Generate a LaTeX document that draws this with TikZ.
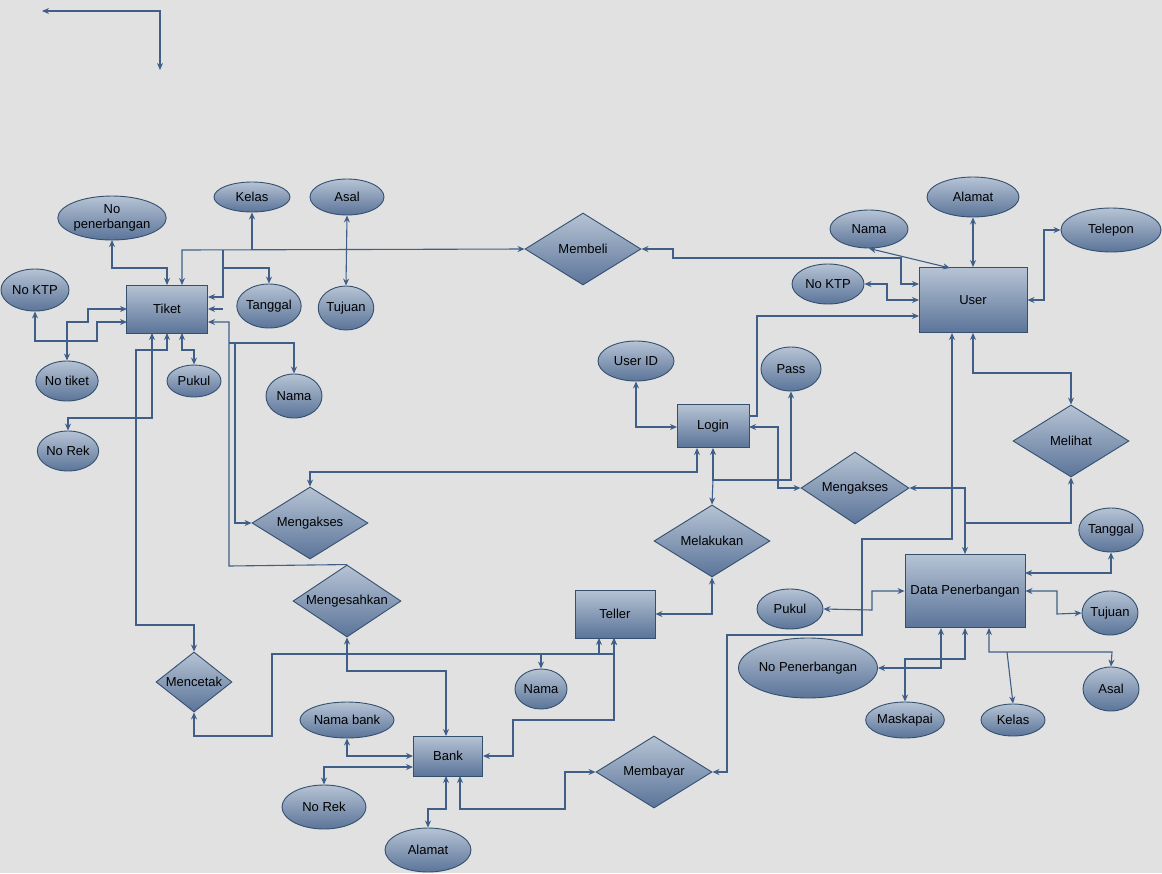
\documentclass[tikz,border=0pt]{standalone}
\usepackage{fontspec}
\setmainfont{Liberation Sans}
\usetikzlibrary{shapes.geometric,arrows.meta}
\definecolor{bg}{HTML}{E1E1E1}
\definecolor{ln}{HTML}{3F5F88}
\definecolor{bd}{HTML}{34506F}
\definecolor{tp}{HTML}{B6C3D4}
\definecolor{bt}{HTML}{5B7499}
\tikzset{
  shp/.style={draw=bd,line width=0.9pt,top color=tp,bottom color=bt,inner sep=0pt,font=\fontsize{13}{15}\selectfont,align=center},
  ent/.style={shp,rectangle},
  att/.style={shp,ellipse},
  rel/.style={shp,diamond},
  cn/.style={draw=ln,line width=1.1pt,rounded corners=0pt,>={Stealth[length=7pt,width=6pt]}}
}
\newcommand{\E}[5]{\node[ent,minimum width=#3,minimum height=#4] (#1) at #2 {#5};}
\newcommand{\A}[5]{\node[att,minimum width=#3,minimum height=#4] (#1) at #2 {#5};}
\newcommand{\R}[5]{\node[rel,minimum width=#3,minimum height=#4,aspect=1.6] (#1) at #2 {#5};}
\begin{document}
\begin{tikzpicture}[x=1pt,y=-1pt]
\fill[bg] (0,0) rectangle (1162,873);
\useasboundingbox (0,0) rectangle (1162,873);
% nodes
\E{tiket}{(167,309)}{81pt}{48pt}{Tiket}
\A{nopen}{(112,218)}{100pt}{44pt}{No\\penerbangan}
\A{kelas}{(252,197)}{76pt}{30pt}{Kelas}
\A{asal}{(347,197)}{74pt}{36pt}{Asal}
\A{noktp}{(35,290)}{68pt}{42pt}{No KTP}
\A{tgl}{(269,306)}{64pt}{44pt}{Tanggal}
\A{tuj}{(346,308)}{54pt}{44pt}{Tujuan}
\A{notik}{(67,381)}{60pt}{40pt}{No tiket}
\A{pukul}{(194,381)}{54pt}{32pt}{Pukul}
\A{nama}{(294,396)}{56pt}{44pt}{Nama}
\A{norek}{(68,451)}{60pt}{40pt}{No Rek}
\R{membeli}{(583,249)}{116pt}{72pt}{Membeli}
\E{user}{(973,300)}{108pt}{65pt}{User}
\A{unama}{(869,229)}{78pt}{38pt}{Nama}
\A{ualamat}{(973,197)}{92pt}{40pt}{Alamat}
\A{utel}{(1111,230)}{100pt}{44pt}{Telepon}
\A{uktp}{(828,284)}{72pt}{40pt}{No KTP}
\A{uid}{(636,361)}{76pt}{40pt}{User ID}
\A{pass}{(791,369)}{60pt}{44pt}{Pass}
\E{login}{(713,426)}{72pt}{43pt}{Login}
\R{melihat}{(1071,441)}{116pt}{72pt}{Melihat}
\R{mengr}{(855,488)}{108pt}{72pt}{Mengakses}
\R{mengl}{(310,523)}{116pt}{72pt}{Mengakses}
\R{melak}{(712,541)}{116pt}{72pt}{Melakukan}
\E{dp}{(965,591)}{120pt}{73pt}{Data Penerbangan}
\A{dtgl}{(1111,530)}{64pt}{44pt}{Tanggal}
\A{dpukul}{(790,609)}{66pt}{40pt}{Pukul}
\A{dtuj}{(1110,613)}{56pt}{44pt}{Tujuan}
\A{dnopen}{(808,668)}{112pt}{60pt}{No Penerbangan}
\A{dmask}{(905,720)}{76pt}{36pt}{Maskapai}
\A{dkelas}{(1013,720)}{64pt}{32pt}{Kelas}
\A{dasal}{(1111,689)}{56pt}{44pt}{Asal}
\R{mengs}{(347,601)}{108pt}{72pt}{Mengesahkan}
\E{teller}{(615,614)}{80pt}{48pt}{Teller}
\R{mencetak}{(194,682)}{76pt}{60pt}{Mencetak}
\A{tnama}{(541,689)}{52pt}{40pt}{Nama}
\A{nbank}{(347,720)}{86pt}{36pt}{Nama bank}
\E{bank}{(448,756)}{69pt}{40pt}{Bank}
\A{bnorek}{(324,807)}{84pt}{44pt}{No Rek}
\A{balamat}{(428,850)}{86pt}{44pt}{Alamat}
\R{membayar}{(654,772)}{116pt}{72pt}{Membayar}
% stray arrow
\coordinate (s1) at (42,11); \coordinate (s2) at (160,70);
\draw[cn,<->] (s1) -- (160,11) -- (s2);
% Tiket connectors
\draw[cn,<->] (112,240)--(112,268)--(167,268)--(167,285);
\draw[cn,<->] (182,285)--(182,250)--(membeli.west);
\draw[cn,->] (252,250)--(kelas.south);
\draw[cn,<->] (asal.south)--(tuj.north);
\draw[cn,<-] (208,297)--(223,297)--(223,250);
\draw[cn,<-] (208,309)--(223,309);
\draw[cn,->] (223,268)--(269,268)--(tgl.north);
\draw[cn,<-] (208,322)--(229,322)--(229,566)--(mengs.north);
\draw[cn,->] (229,343)--(294,343)--(nama.north);
\draw[cn,->] (229,343)--(235,343)--(235,523)--(mengl.west);
\draw[cn,<->] (182,333)--(182,350)--(194,350)--(pukul.north);
\draw[cn,<->] (152,333)--(152,418)--(68,418)--(norek.north);
\draw[cn,<->] (167,333)--(167,350)--(136,350)--(136,625)--(194,625)--(mencetak.north);
\draw[cn,<->] (noktp.south)--(35,341)--(97,341)--(97,322)--(127,322);
\draw[cn,<->] (notik.north)--(67,322)--(88,322)--(88,309)--(127,309);
% User connectors
\draw[cn,<->] (membeli.east)--(673,249)--(673,258)--(901,258)--(901,284)--(919,284);
\draw[cn,<->] (unama.south)--(950,268);
\draw[cn,<->] (ualamat.south)--(user.north);
\draw[cn,<->] (user.east)--(1044,300)--(1044,230)--(utel.west);
\draw[cn,<->] (uktp.east)--(887,284)--(887,300)--(919,300);
\draw[cn,->] (749,416)--(757,416)--(757,316)--(919,316);
\draw[cn,<->] (uid.south)--(636,427)--(677,427);
\draw[cn,<->] (mengl.north)--(310,472)--(697,472)--(697,448);
\draw[cn,<->] (pass.south)--(791,480)--(713,480)--(login.south);
\draw[cn,->] (713,480)--(melak.north);
\draw[cn,<->] (749,427)--(778,427)--(778,488)--(mengr.west);
\draw[cn,<->] (mengr.east)--(965,488)--(dp.north);
\draw[cn,<-] (melihat.south)--(1071,523)--(965,523);
\draw[cn,<->] (user.south)--(973,373)--(1071,373)--(melihat.north);
\draw[cn,<->] (952,333)--(952,539)--(862,539)--(862,635)--(727,635)--(727,772)--(membayar.east);
\draw[cn,<->] (melak.south)--(712,614)--(teller.east);
% Data Penerbangan
\draw[cn,<->] (1025,573)--(1111,573)--(dtgl.south);
\draw[cn,<->] (dp.east)--(1057,591)--(1057,614)--(dtuj.west);
\draw[cn,<->] (dpukul.east)--(872,610)--(872,591)--(dp.west);
\draw[cn,<->] (dnopen.east)--(941,668)--(941,628);
\draw[cn,<->] (965,628)--(965,659)--(905,659)--(dmask.north);
\draw[cn,<->] (989,628)--(989,652)--(1112,652)--(dasal.north);
\draw[cn,->] (1007,652)--(dkelas.north);
% Teller / Bank
\draw[cn,<->] (mengs.south)--(347,671)--(446,671)--(446,736);
\draw[cn,<->] (mencetak.south)--(194,736)--(272,736)--(272,654)--(599,654)--(599,638);
\draw[cn,<->] (614,638)--(614,654)--(541,654)--(tnama.north);
\draw[cn,<->] (614,638)--(614,720)--(513,720)--(513,756)--(bank.east);
\draw[cn,<->] (nbank.south)--(347,756)--(413,756);
\draw[cn,<->] (bnorek.north)--(324,767)--(413,767);
\draw[cn,<->] (446,776)--(446,809)--(428,809)--(balamat.north);
\draw[cn,<->] (460,776)--(460,809)--(565,809)--(565,772)--(membayar.west);
\end{tikzpicture}
\end{document}
